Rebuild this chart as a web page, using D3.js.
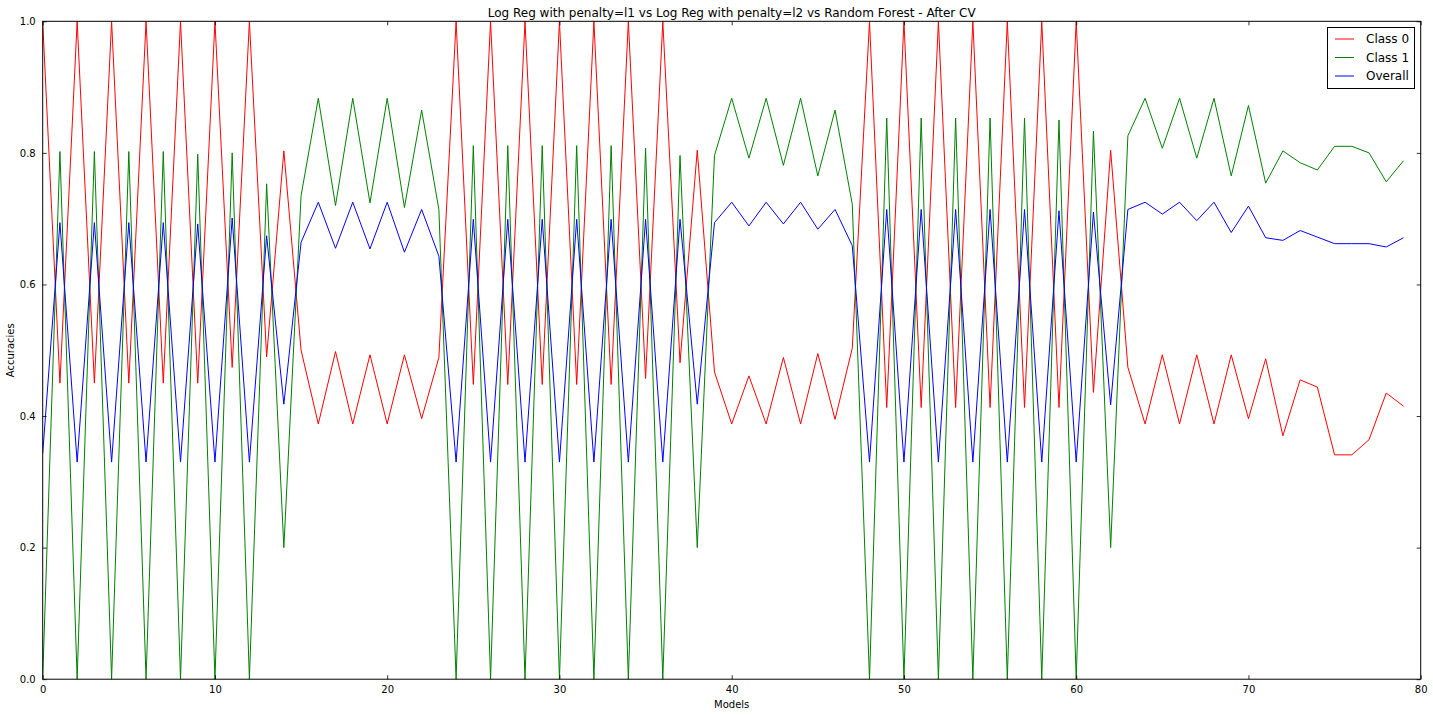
<!DOCTYPE html>
<html>
<head>
<meta charset="utf-8">
<script src="https://cdn.jsdelivr.net/npm/d3@7"></script>
<style>
  html, body { margin: 0; padding: 0; background: #fff; }
  svg { display: block; font-family: "DejaVu Sans", sans-serif; }
</style>
</head>
<body>
<svg id="chart" width="1433" height="715"></svg>
<script>
const models = d3.range(80);
const class0 = [1.0,0.45,1.0,0.45,1.0,0.45,1.0,0.45,1.0,0.45,
  1.0,0.474,1.0,0.49,0.803,0.50,0.388,0.498,0.388,0.493,
  0.388,0.493,0.396,0.489,1.0,0.448,1.0,0.448,1.0,0.448,
  1.0,0.448,1.0,0.448,1.0,0.457,1.0,0.481,0.804,0.467,
  0.388,0.461,0.388,0.489,0.388,0.495,0.395,0.503,1.0,0.413,
  1.0,0.413,1.0,0.413,1.0,0.413,1.0,0.413,1.0,0.413,
  1.0,0.436,0.804,0.474,0.388,0.493,0.388,0.493,0.388,0.493,
  0.396,0.487,0.370,0.455,0.444,0.341,0.341,0.364,0.435,0.415];
const class1 = [0.0,0.802,0.0,0.802,0.0,0.802,0.0,0.802,0.0,0.798,
  0.0,0.80,0.0,0.753,0.20,0.735,0.883,0.72,0.883,0.724,
  0.883,0.717,0.865,0.714,0.0,0.811,0.0,0.811,0.0,0.811,
  0.0,0.811,0.0,0.811,0.0,0.807,0.0,0.796,0.20,0.796,
  0.883,0.792,0.883,0.781,0.883,0.765,0.865,0.722,0.0,0.853,
  0.0,0.853,0.0,0.853,0.0,0.853,0.0,0.853,0.0,0.850,
  0.0,0.833,0.20,0.826,0.883,0.807,0.883,0.792,0.883,0.765,
  0.872,0.754,0.803,0.785,0.774,0.810,0.810,0.800,0.756,0.788];
const overall = [0.343,0.694,0.330,0.694,0.330,0.694,0.330,0.694,0.330,0.692,
  0.330,0.701,0.330,0.674,0.418,0.664,0.725,0.655,0.725,0.654,
  0.725,0.649,0.714,0.643,0.330,0.699,0.330,0.699,0.330,0.699,
  0.330,0.699,0.330,0.699,0.330,0.699,0.330,0.699,0.418,0.694,
  0.725,0.689,0.725,0.692,0.725,0.684,0.714,0.659,0.330,0.714,
  0.330,0.714,0.330,0.714,0.330,0.714,0.330,0.714,0.330,0.712,
  0.330,0.710,0.417,0.714,0.725,0.707,0.725,0.697,0.725,0.679,
  0.719,0.671,0.667,0.682,0.672,0.662,0.662,0.662,0.657,0.671];
const seriesNames = ["Class 0", "Class 1", "Overall"];
const seriesColors = ["#ff0000", "#008000", "#0000ff"];
const xTicks = [0,10,20,30,40,50,60,70,80];
const yTicks = [0.0,0.2,0.4,0.6,0.8,1.0];
const titleText = "Log Reg with penalty=l1 vs Log Reg with penalty=l2 vs Random Forest - After CV";
const xLabel = "Models";
const yLabel = "Accuracies";

const svg = d3.select("#chart");
const L = 42.7, R = 1420.7, T = 21.3, B = 679.2;
const x = d3.scaleLinear().domain([0, 80]).range([L, R]);
const y = d3.scaleLinear().domain([0, 1]).range([B, T]);

const plotClip = svg.append("clipPath").attr("id", "clip")
  .append("rect").attr("x", L).attr("y", T - 1).attr("width", R - L).attr("height", B - T + 2);

const series = [class0, class1, overall];
const line = d3.line().x((d, i) => x(models[i])).y(d => y(d));
const g = svg.append("g").attr("clip-path", "url(#clip)");
series.forEach((s, k) => {
  g.append("path").datum(s)
    .attr("d", line)
    .attr("fill", "none")
    .attr("stroke", seriesColors[k])
    .attr("stroke-width", 1);
});

// axes (inward ticks, classic style)
const tl = 4;
const fmtY = d3.format(".1f");
const axB = svg.append("g").attr("transform", `translate(0,${B})`)
  .call(d3.axisBottom(x).tickValues(xTicks).tickSizeInner(-tl).tickSizeOuter(0).tickPadding(7).tickFormat(d3.format("d")));
const axT = svg.append("g").attr("transform", `translate(0,${T})`)
  .call(d3.axisTop(x).tickValues(xTicks).tickSizeInner(-tl).tickSizeOuter(0).tickFormat(""));
const axL = svg.append("g").attr("transform", `translate(${L},0)`)
  .call(d3.axisLeft(y).tickValues(yTicks).tickSizeInner(-tl).tickSizeOuter(0).tickPadding(7).tickFormat(fmtY));
const axR = svg.append("g").attr("transform", `translate(${R},0)`)
  .call(d3.axisRight(y).tickValues(yTicks).tickSizeInner(-tl).tickSizeOuter(0).tickFormat(""));
[axB, axT, axL, axR].forEach(a => {
  a.select(".domain").remove();
  a.selectAll("line").attr("stroke", "#000").attr("stroke-width", 0.8);
  a.selectAll("text").attr("font-size", 10).attr("fill", "#000").attr("font-family", "DejaVu Sans");
});

svg.append("rect").attr("x", L).attr("y", T).attr("width", R - L).attr("height", B - T)
  .attr("fill", "none").attr("stroke", "#000").attr("stroke-width", 1);

svg.append("text").attr("x", (L + R) / 2).attr("y", 16.5).attr("text-anchor", "middle")
  .attr("font-size", 12).text(titleText);
svg.append("text").attr("x", (L + R) / 2).attr("y", 708).attr("text-anchor", "middle")
  .attr("font-size", 10).text(xLabel);
svg.append("text").attr("transform", `translate(14,${(T + B) / 2}) rotate(-90)`)
  .attr("text-anchor", "middle").attr("font-size", 10).text(yLabel);

// legend
const lg = svg.append("g");
lg.append("rect").attr("x", 1327.5).attr("y", 27.5).attr("width", 87).attr("height", 61)
  .attr("fill", "#fff").attr("stroke", "#000").attr("stroke-width", 1);
seriesNames.forEach((n, i) => {
  const yy = 39 + i * 18.5;
  lg.append("line").attr("x1", 1335).attr("x2", 1354).attr("y1", yy).attr("y2", yy)
    .attr("stroke", seriesColors[i]).attr("stroke-width", 1);
  lg.append("text").attr("x", 1366).attr("y", yy + 4.3).attr("font-size", 12).text(n);
});
</script>
</body>
</html>
